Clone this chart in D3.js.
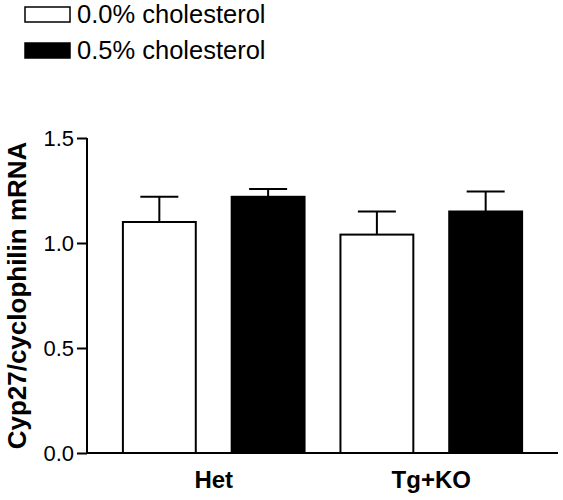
<!DOCTYPE html>
<html><head><meta charset="utf-8">
<script src="https://cdn.jsdelivr.net/npm/d3@7"></script>
<style>
html,body{margin:0;padding:0;background:#fff;}
text{font-family:"Liberation Sans",Arial,sans-serif;fill:#000;}
</style></head>
<body>
<svg id="chart" width="563" height="500"></svg>
<script>
const categories = ["Het", "Tg+KO"];
const seriesNames = ["0.0% cholesterol", "0.5% cholesterol"];
const seriesFill = ["#fff", "#000"];
const values0 = [1.10, 1.04];
const errors0 = [0.12, 0.11];
const values1 = [1.22, 1.15];
const errors1 = [0.037, 0.095];
const yTicks = [0.0, 0.5, 1.0, 1.5];
const yTitle = "Cyp27/cyclophilin mRNA";

(function () {
const svg = d3.select("#chart");
const mLeft = 87, mRight = 558, mTop = 138, mBottom = 453;

const y = d3.scaleLinear().domain([0, 1.5]).range([mBottom, mTop]);
const x0 = d3.scaleBand().domain(categories).range([mLeft, mRight]).paddingInner(0.165).paddingOuter(0.165);
const x1 = d3.scaleBand().domain(seriesNames).range([0, x0.bandwidth()]).paddingInner(0.33).paddingOuter(0);

const rows = [];
categories.forEach((c, i) => {
  rows.push({cat: c, s: seriesNames[0], v: values0[i], e: errors0[i], fill: seriesFill[0]});
  rows.push({cat: c, s: seriesNames[1], v: values1[i], e: errors1[i], fill: seriesFill[1]});
});

// error bars
const capW = 38;
const eg = svg.append("g");
rows.forEach(d => {
  const cx = x0(d.cat) + x1(d.s) + x1.bandwidth() / 2;
  eg.append("line").attr("x1", cx).attr("x2", cx).attr("y1", y(d.v)).attr("y2", y(d.v + d.e))
    .attr("stroke", "#000").attr("stroke-width", 2);
  eg.append("line").attr("x1", cx - capW / 2).attr("x2", cx + capW / 2).attr("y1", y(d.v + d.e)).attr("y2", y(d.v + d.e))
    .attr("stroke", "#000").attr("stroke-width", 2);
});

// bars
svg.append("g").selectAll("rect").data(rows).join("rect")
  .attr("x", d => x0(d.cat) + x1(d.s))
  .attr("y", d => y(d.v))
  .attr("width", x1.bandwidth())
  .attr("height", d => y(0) - y(d.v))
  .attr("fill", d => d.fill)
  .attr("stroke", "#000").attr("stroke-width", 2);

// y axis
const ya = svg.append("g").attr("transform", `translate(${mLeft},0)`)
  .call(d3.axisLeft(y).tickValues(yTicks).tickFormat(d3.format(".1f")).tickSize(10).tickPadding(3));
ya.select(".domain").attr("stroke-width", 2).attr("d", `M0,${mTop}V${mBottom}`);
ya.selectAll(".tick line").attr("stroke-width", 2);
ya.selectAll(".tick text").attr("font-size", 22).attr("font-family", "Liberation Sans, Arial, sans-serif").attr("fill", "#000");

// x axis
const xa = svg.append("g").attr("transform", `translate(0,${mBottom})`)
  .call(d3.axisBottom(x0).tickSize(0).tickPadding(18));
xa.select(".domain").attr("stroke-width", 2).attr("d", `M${mLeft},0H${mRight}`);
xa.selectAll(".tick text").attr("font-size", 24).attr("font-weight", "bold")
  .attr("font-family", "Liberation Sans, Arial, sans-serif").attr("fill", "#000");

// y title
svg.append("text").attr("transform", `translate(26,${(mTop + mBottom) / 2}) rotate(-90)`)
  .attr("text-anchor", "middle").attr("font-size", 26).attr("font-weight", "bold").text(yTitle);

// legend
const lg = svg.append("g");
seriesNames.forEach((s, i) => {
  const yy = 7 + i * 36;
  lg.append("rect").attr("x", 25).attr("y", yy).attr("width", 45).attr("height", 15)
    .attr("fill", seriesFill[i]).attr("stroke", "#000").attr("stroke-width", 1.5);
  lg.append("text").attr("x", 77).attr("y", yy + 15.5).attr("font-size", 25.5).text(s);
});
})();
</script>
</body></html>
